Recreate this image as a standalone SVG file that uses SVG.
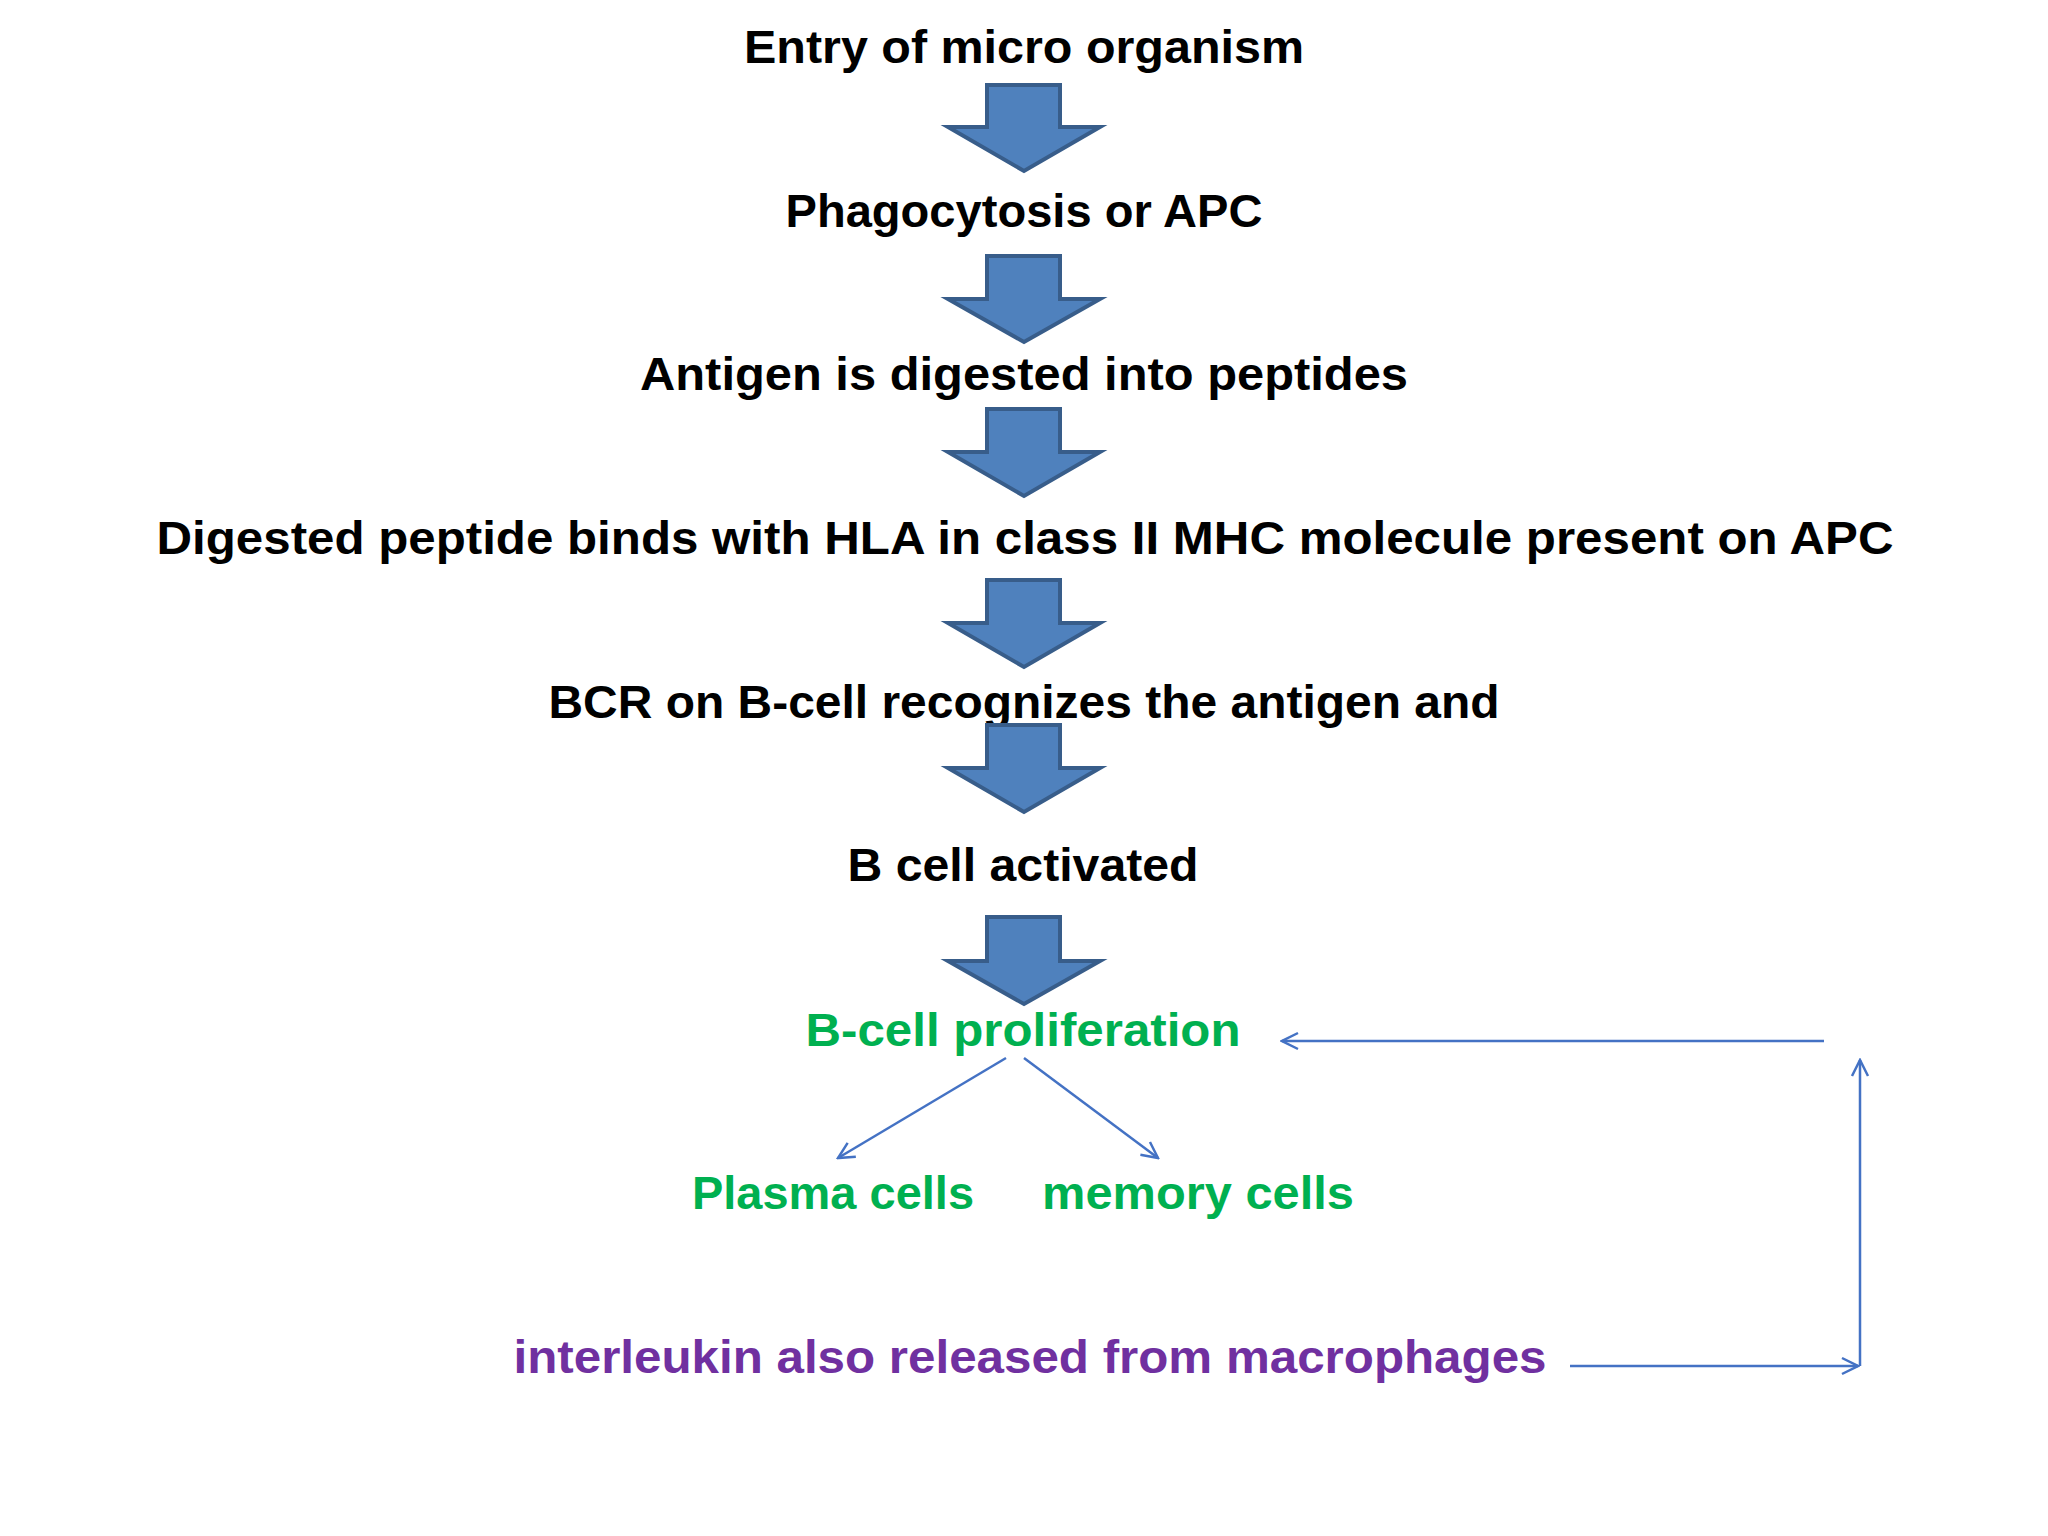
<svg xmlns="http://www.w3.org/2000/svg" width="2048" height="1536" viewBox="0 0 2048 1536">
<style>
text{font-family:"Liberation Sans",Arial,sans-serif;font-weight:bold;font-size:46px;text-anchor:middle}
.k{fill:#000}.g{fill:#00B050}.p{fill:#7030A0}
.ba{fill:#4F81BD;stroke:#385D8A;stroke-width:4;stroke-linejoin:miter}
.c{stroke:#4472C4;stroke-width:2.5;fill:none;marker-end:url(#m)}
</style>
<defs>
<marker id="m" markerWidth="20" markerHeight="20" refX="18" refY="10" orient="auto" markerUnits="userSpaceOnUse">
<path d="M2,2 L18,10 L2,18" fill="none" stroke="#4472C4" stroke-width="2.5"/>
</marker>
</defs>
<rect width="2048" height="1536" fill="#fff"/>
<g id="n1"><text class="k" x="1024" y="63" textLength="560" lengthAdjust="spacingAndGlyphs">Entry of micro organism</text></g>
<g id="n2"><text class="k" x="1024" y="227" textLength="477" lengthAdjust="spacingAndGlyphs">Phagocytosis or APC</text></g>
<g id="n3"><text class="k" x="1024" y="390" textLength="768" lengthAdjust="spacingAndGlyphs">Antigen is digested into peptides</text></g>
<g id="n4"><text class="k" x="1025" y="554" textLength="1737" lengthAdjust="spacingAndGlyphs">Digested peptide binds with HLA  in class II MHC molecule present on APC</text></g>
<g id="n5"><text class="k" x="1024" y="718" textLength="951" lengthAdjust="spacingAndGlyphs">BCR on B-cell recognizes the antigen and</text></g>
<g id="n6"><text class="k" x="1023" y="881" textLength="351" lengthAdjust="spacingAndGlyphs">B cell activated</text></g>
<g id="n7"><text class="g" x="1023" y="1046" textLength="435" lengthAdjust="spacingAndGlyphs">B-cell proliferation</text></g>
<g id="n8"><text class="g" x="833" y="1209" textLength="282" lengthAdjust="spacingAndGlyphs">Plasma cells</text></g>
<g id="n9"><text class="g" x="1198" y="1209" textLength="312" lengthAdjust="spacingAndGlyphs">memory cells</text></g>
<g id="n10"><text class="p" x="1030" y="1373" textLength="1033" lengthAdjust="spacingAndGlyphs">interleukin also released from macrophages</text></g>
<g id="connectors">
<path class="ba" d="M987,85 H1060 V127 H1100 L1024,171 L948,127 H987 Z"/>
<path class="ba" d="M987,256 H1060 V299 H1100 L1024,342 L948,299 H987 Z"/>
<path class="ba" d="M987,409 H1060 V452 H1100 L1024,496 L948,452 H987 Z"/>
<path class="ba" d="M987,580 H1060 V623 H1100 L1024,667 L948,623 H987 Z"/>
<path class="ba" d="M987,725 H1060 V768 H1100 L1024,812 L948,768 H987 Z"/>
<path class="ba" d="M987,917 H1060 V961 H1100 L1024,1004 L948,961 H987 Z"/>
<line class="c" x1="1006" y1="1058" x2="838" y2="1158"/>
<line class="c" x1="1024" y1="1058" x2="1158" y2="1158"/>
<line class="c" x1="1824" y1="1041" x2="1282" y2="1041"/>
<line class="c" x1="1570" y1="1366" x2="1858" y2="1366"/>
<line class="c" x1="1860" y1="1366" x2="1860" y2="1060"/>
</g>
</svg>
